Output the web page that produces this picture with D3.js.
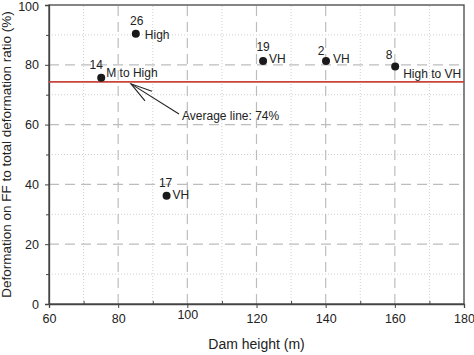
<!DOCTYPE html>
<html>
<head>
<meta charset="utf-8">
<script src="https://cdn.jsdelivr.net/npm/d3@7"></script>
<style>
  html, body { margin: 0; padding: 0; background: #fff; }
  svg { display: block; font-family: "Liberation Sans", Arial, sans-serif; }
</style>
</head>
<body>
<svg id="chart" width="474" height="355"></svg>
<script>
// ---- data ----
const damIds      = ["26", "14", "17", "19", "2", "8"];
const damHeights  = [85.1, 75.1, 94.0, 121.9, 140.1, 160.1];
const ffRatios    = [90.4, 75.7, 36.2, 81.3, 81.3, 79.4];
const riskLabels  = ["High", "M to High", "VH", "VH", "VH", "High to VH"];
const averageRatio = 74.3;
const averageText  = "Average line: 74%";
const xTicks = [60, 80, 100, 120, 140, 160, 180];
const yTicks = [0, 20, 40, 60, 80, 100];
const xMinorTicks = [70, 90, 110, 130, 150, 170];
const yMinorTicks = [10, 30, 50, 70, 90];

// label layout (pixel offsets from the point)
const idOffsets   = [[1, -9], [-5, -9], [-1, -9], [0, -10], [-5, -6], [-6, -8]];
const riskOffsets = [[9, 5], [5, -1], [6, 3], [6, 2], [7, 2], [8, 11]];

const svg = d3.select("#chart");
const W = 474, H = 355;
const m = { left: 49, right: 10, top: 5, bottom: 51 };

const x = d3.scaleLinear().domain([60, 180]).range([m.left, W - m.right]);
const y = d3.scaleLinear().domain([0, 100]).range([H - m.bottom, m.top]);

// minor grid (dotted)
const g = svg.append("g");
g.selectAll("line.xminor").data(xMinorTicks).enter().append("line")
  .attr("x1", d => x(d)).attr("x2", d => x(d))
  .attr("y1", y(0)).attr("y2", y(100))
  .attr("stroke", "#d0d0d0").attr("stroke-width", 1).attr("stroke-dasharray", "1,2");
g.selectAll("line.yminor").data(yMinorTicks).enter().append("line")
  .attr("x1", x(60)).attr("x2", x(180))
  .attr("y1", d => y(d)).attr("y2", d => y(d))
  .attr("stroke", "#d0d0d0").attr("stroke-width", 1).attr("stroke-dasharray", "1,2");
// major grid (dashed)
g.selectAll("line.xmajor").data(xTicks.slice(1, -1)).enter().append("line")
  .attr("x1", d => x(d)).attr("x2", d => x(d))
  .attr("y1", y(0)).attr("y2", y(100))
  .attr("stroke", "#bdbdbd").attr("stroke-width", 1.2).attr("stroke-dasharray", "10,6");
g.selectAll("line.ymajor").data(yTicks.slice(1, -1)).enter().append("line")
  .attr("x1", x(60)).attr("x2", x(180))
  .attr("y1", d => y(d)).attr("y2", d => y(d))
  .attr("stroke", "#bdbdbd").attr("stroke-width", 1.2).attr("stroke-dasharray", "10,6");

// frame
svg.append("rect")
  .attr("x", x(60)).attr("y", y(100))
  .attr("width", x(180) - x(60)).attr("height", y(0) - y(100))
  .attr("fill", "none").attr("stroke", "#444").attr("stroke-width", 1.3);

// axes
svg.append("g").attr("transform", `translate(0,${y(0)})`)
  .call(d3.axisBottom(x).tickValues(xTicks).tickSize(4).tickPadding(6).tickFormat(d3.format("d")));
svg.append("g").attr("transform", `translate(0,${y(0)})`)
  .call(d3.axisTop(x).tickValues(xMinorTicks).tickSize(3).tickFormat(""))
  .call(s => s.select(".domain").remove());
svg.append("g").attr("transform", `translate(${x(60)},0)`)
  .call(d3.axisLeft(y).tickValues(yTicks).tickSize(4).tickPadding(6).tickFormat(d3.format("d")));
svg.append("g").attr("transform", `translate(${x(60)},0)`)
  .call(d3.axisLeft(y).tickValues(yMinorTicks).tickSize(3).tickFormat(""))
  .call(s => s.select(".domain").remove());
svg.selectAll(".domain").attr("stroke", "#444").attr("stroke-width", 1.3);
svg.selectAll(".tick line").attr("stroke", "#444").attr("stroke-width", 1);
svg.selectAll(".tick text").attr("font-size", 12.5).attr("fill", "#222")
  .attr("font-family", "'Liberation Sans', Arial, sans-serif");
// keep the top "100" label inside the picture
svg.selectAll(".tick text").filter(d => d === 100).attr("dy", "0.42em");

// average line
svg.append("line")
  .attr("x1", x(60)).attr("x2", x(180))
  .attr("y1", y(averageRatio)).attr("y2", y(averageRatio))
  .attr("stroke", "#c9453b").attr("stroke-width", 1.6);

// arrow annotation
const tip = [131, y(averageRatio) + 2];
const tail = [179, 114];
svg.append("line").attr("x1", tail[0]).attr("y1", tail[1]).attr("x2", tip[0]).attr("y2", tip[1])
  .attr("stroke", "#222").attr("stroke-width", 1.1);
svg.append("polyline")
  .attr("points", `${tip[0] + 21},${tip[1] + 7.5} ${tip[0]},${tip[1]} ${tip[0] + 14},${tip[1] + 17}`)
  .attr("fill", "none").attr("stroke", "#222").attr("stroke-width", 1.1);
svg.append("text").attr("x", 182).attr("y", 120)
  .attr("font-size", 12).attr("fill", "#222").text(averageText);

// points
const pts = damIds.map((id, i) => ({ id, h: damHeights[i], r: ffRatios[i], lab: riskLabels[i], io: idOffsets[i], ro: riskOffsets[i] }));
svg.selectAll("circle.pt").data(pts).enter().append("circle")
  .attr("cx", d => x(d.h)).attr("cy", d => y(d.r)).attr("r", 4)
  .attr("fill", "#1a1a1a");
svg.selectAll("text.id").data(pts).enter().append("text")
  .attr("x", d => x(d.h) + d.io[0]).attr("y", d => y(d.r) + d.io[1])
  .attr("text-anchor", "middle").attr("font-size", 12).attr("fill", "#222")
  .text(d => d.id);
svg.selectAll("text.risk").data(pts).enter().append("text")
  .attr("x", d => x(d.h) + d.ro[0]).attr("y", d => y(d.r) + d.ro[1])
  .attr("font-size", 12).attr("fill", "#222")
  .text(d => d.lab);

// axis titles
svg.append("text").attr("x", (x(60) + x(180)) / 2).attr("y", 349)
  .attr("text-anchor", "middle").attr("font-size", 14).attr("fill", "#222")
  .text("Dam height (m)");
svg.append("text").attr("transform", `translate(11,${(y(0) + y(100)) / 2}) rotate(-90)`)
  .attr("text-anchor", "middle").attr("font-size", 13.5).attr("fill", "#222")
  .text("Deformation on FF to total deformation ratio (%)");
</script>
</body>
</html>
